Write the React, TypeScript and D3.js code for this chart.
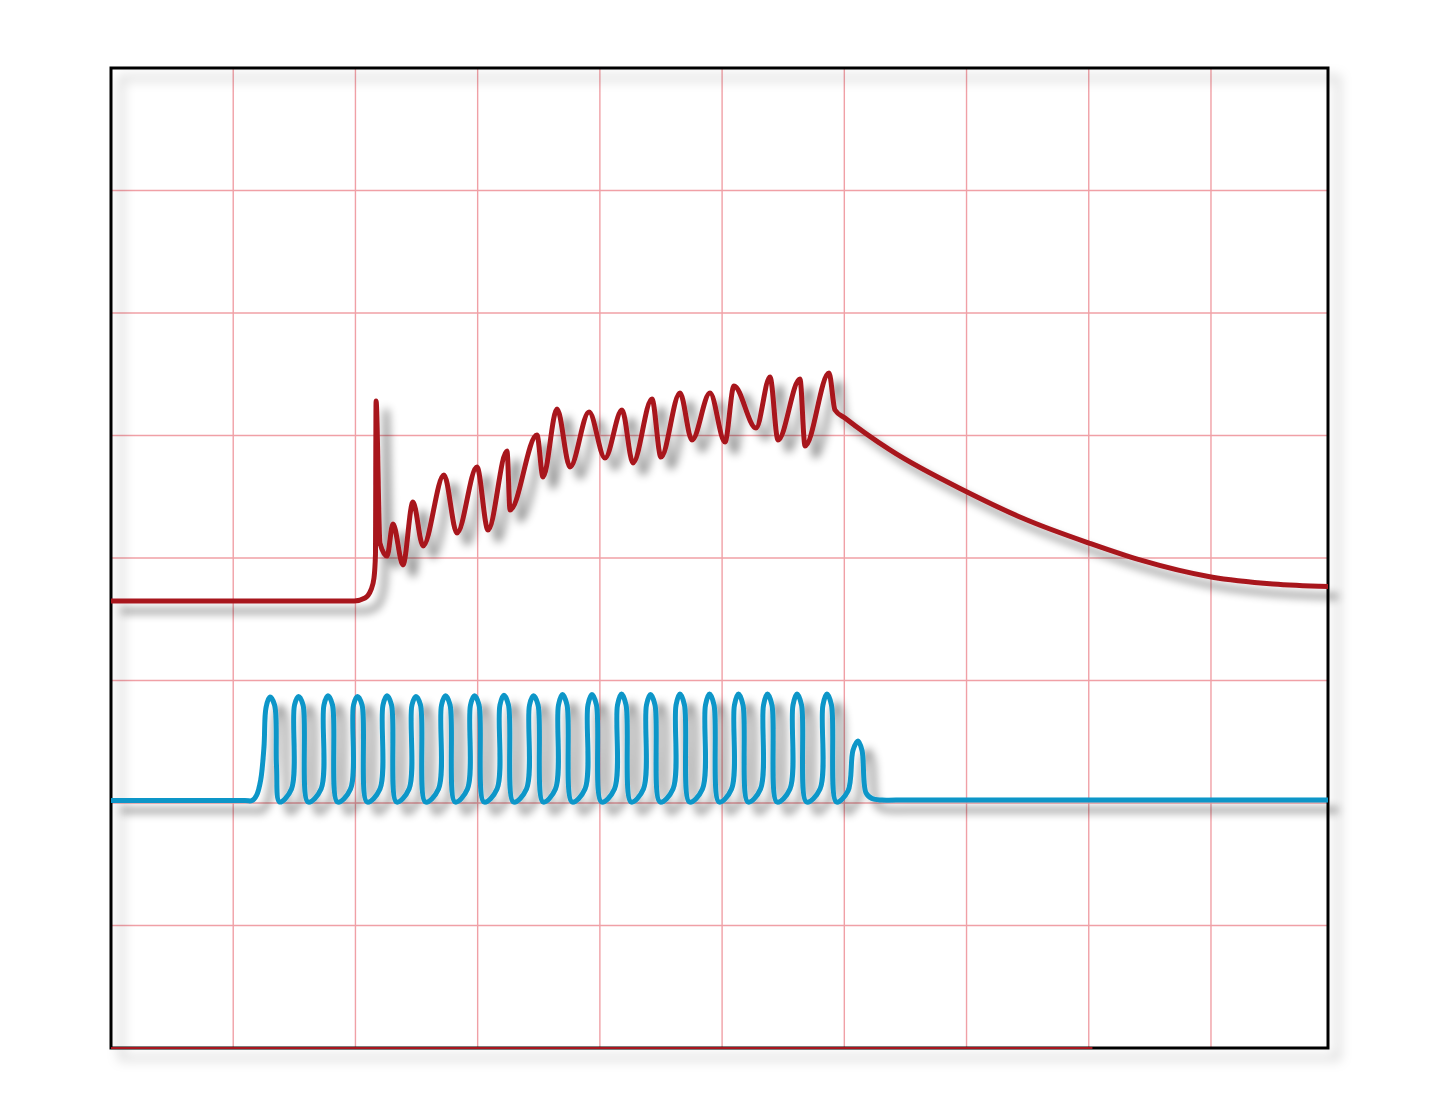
import React, { useEffect, useRef } from "react";
import * as d3 from "d3";

// scope screen: 10 x 8 divisions
const WIDTH = 1440;
const HEIGHT = 1113;
const DIV_X = 10;
const DIV_Y = 8;

const verticalDivs = [1, 2, 3, 4, 5, 6, 7, 8, 9];
const horizontalDivs = [1, 2, 3, 4, 5, 6, 7];

// channel 1 (red), [time, level div]; time 0..10 spans the screen
const redTrace: [number, number][] = [
  [0, 3.65], [2.0, 3.65], [2.087, 3.673], [2.136, 3.739], [2.161, 3.837],
  [2.173, 4.024], [2.178, 5.282], [2.21, 4.122], [2.268, 4.016], [2.317, 4.278],
  [2.399, 3.943], [2.481, 4.457], [2.564, 4.098], [2.736, 4.678], [2.843, 4.204],
  [3.007, 4.743], [3.098, 4.229], [3.254, 4.873], [3.279, 4.392], [3.5, 5.004],
  [3.55, 4.661], [3.665, 5.216], [3.772, 4.743], [3.928, 5.192], [4.059, 4.816],
  [4.199, 5.208], [4.289, 4.776], [4.445, 5.298], [4.519, 4.824], [4.675, 5.347],
  [4.774, 4.963], [4.922, 5.347], [5.045, 4.947], [5.119, 5.404], [5.3, 5.061],
  [5.415, 5.478], [5.481, 4.963], [5.661, 5.461], [5.703, 4.914], [5.9, 5.51],
  [5.949, 5.208], [6.031, 5.143], [6.401, 4.882], [7.034, 4.539], [7.527, 4.31],
  [8.036, 4.122], [8.455, 3.984], [9.039, 3.845], [9.548, 3.788], [10, 3.767],
];

// channel 2 (blue), one row per pulse: foot, rise, peak, fall, trough
const blueTrace: [number, number][] = [
  [0, 2.02], [1.1, 2.02], [1.159, 2.02], [1.197, 2.065], [1.23, 2.188], [1.257, 2.457], [1.274, 2.78],
  [1.306, 2.865], [1.344, 2.8], [1.36, 2.3], [1.385, 2.008],
  [1.483, 2.114], [1.508, 2.8], [1.541, 2.87], [1.578, 2.8], [1.619, 2.008],
  [1.726, 2.114], [1.75, 2.8], [1.783, 2.875], [1.82, 2.8], [1.861, 2.008],
  [1.968, 2.114], [1.993, 2.8], [2.025, 2.87], [2.063, 2.8], [2.104, 2.008],
  [2.21, 2.114], [2.235, 2.8], [2.268, 2.875], [2.305, 2.8], [2.346, 2.008],
  [2.449, 2.114], [2.473, 2.8], [2.506, 2.87], [2.543, 2.8], [2.584, 2.008],
  [2.691, 2.114], [2.716, 2.8], [2.749, 2.875], [2.786, 2.8], [2.827, 2.008],
  [2.929, 2.114], [2.954, 2.8], [2.987, 2.875], [3.024, 2.8], [3.065, 2.008],
  [3.172, 2.114], [3.196, 2.8], [3.229, 2.88], [3.266, 2.8], [3.307, 2.008],
  [3.414, 2.114], [3.439, 2.8], [3.472, 2.875], [3.509, 2.8], [3.55, 2.008],
  [3.652, 2.114], [3.677, 2.8], [3.71, 2.885], [3.747, 2.8], [3.788, 2.008],
  [3.895, 2.114], [3.919, 2.8], [3.952, 2.885], [3.989, 2.8], [4.03, 2.008],
  [4.137, 2.114], [4.162, 2.8], [4.195, 2.89], [4.232, 2.8], [4.273, 2.008],
  [4.375, 2.114], [4.4, 2.8], [4.433, 2.885], [4.47, 2.8], [4.511, 2.008],
  [4.618, 2.114], [4.643, 2.8], [4.675, 2.89], [4.712, 2.8], [4.753, 2.008],
  [4.86, 2.114], [4.885, 2.8], [4.918, 2.89], [4.955, 2.8], [4.996, 2.008],
  [5.099, 2.114], [5.123, 2.8], [5.156, 2.89], [5.193, 2.8], [5.234, 2.008],
  [5.337, 2.114], [5.362, 2.8], [5.394, 2.89], [5.431, 2.8], [5.472, 2.008],
  [5.579, 2.114], [5.604, 2.8], [5.637, 2.89], [5.674, 2.8], [5.715, 2.008],
  [5.826, 2.114], [5.85, 2.8], [5.883, 2.89], [5.92, 2.8], [5.961, 2.008],
  [6.056, 2.098], [6.097, 2.43], [6.138, 2.506], [6.171, 2.43], [6.204, 2.082],
  [6.253, 2.036], [6.335, 2.024], [6.45, 2.024], [10, 2.024],
];

// red marker line drawn along the bottom edge (graticule divisions)
const bottomMarker: [number, number][] = [[0, 0], [8.03, 0]];

const App = () => {
  const ref = useRef<SVGSVGElement>(null);

  useEffect(() => {
    if (!ref.current) return;
    const svg = d3.select(ref.current);
    svg.selectAll("*").remove();

    // traces span the frame; graticule pitch is slightly wider than frame/10
    const x = d3.scaleLinear().domain([0, DIV_X]).range([111, 1328]);
    const gx = d3.scaleLinear().domain([0, DIV_X]).range([111, 1333.2]);
    const y = d3.scaleLinear().domain([0, DIV_Y]).range([1048, 68]);

    const defs = svg.append("defs");
    const shadow = (id: string, blur: number, op: number) =>
      defs
        .append("filter")
        .attr("id", id)
        .attr("x", "-10%")
        .attr("y", "-10%")
        .attr("width", "130%")
        .attr("height", "130%")
        .append("feDropShadow")
        .attr("dx", 10)
        .attr("dy", 10)
        .attr("stdDeviation", blur)
        .attr("flood-color", "#000")
        .attr("flood-opacity", op);
    shadow("traceShadow", 4, 0.45);
    shadow("frameShadow", 6, 0.28);

    // grid
    const grid = svg.append("g").attr("stroke", "#f0a0a6").attr("stroke-width", 1.4);
    grid
      .selectAll("line.v")
      .data(verticalDivs)
      .join("line")
      .attr("class", "v")
      .attr("x1", (d) => gx(d))
      .attr("x2", (d) => gx(d))
      .attr("y1", y(0))
      .attr("y2", y(DIV_Y));
    grid
      .selectAll("line.h")
      .data(horizontalDivs)
      .join("line")
      .attr("class", "h")
      .attr("y1", (d) => y(d))
      .attr("y2", (d) => y(d))
      .attr("x1", x(0))
      .attr("x2", x(DIV_X));

    // frame
    svg
      .append("rect")
      .attr("x", x(0))
      .attr("y", y(DIV_Y))
      .attr("width", x(DIV_X) - x(0))
      .attr("height", y(0) - y(DIV_Y))
      .attr("fill", "none")
      .attr("stroke", "#000")
      .attr("stroke-width", 3)
      .attr("filter", "url(#frameShadow)");

    const line = d3
      .line<[number, number]>()
      .x((d) => x(d[0]))
      .y((d) => y(d[1]));

    svg
      .append("path")
      .datum(redTrace)
      .attr("d", line.curve(d3.curveMonotoneX))
      .attr("fill", "none")
      .attr("stroke", "#a8161f")
      .attr("stroke-width", 5)
      .attr("stroke-linejoin", "round")
      .attr("filter", "url(#traceShadow)");

    svg
      .append("path")
      .datum(blueTrace)
      .attr("d", line.curve(d3.curveCatmullRom.alpha(0.5)))
      .attr("fill", "none")
      .attr("stroke", "#0b96c8")
      .attr("stroke-width", 5)
      .attr("stroke-linejoin", "round")
      .attr("filter", "url(#traceShadow)");

    svg
      .append("path")
      .datum(bottomMarker)
      .attr("d", d3.line<[number, number]>().x((d) => gx(d[0])).y((d) => y(d[1])))
      .attr("stroke", "#e01e28")
      .attr("stroke-width", 1.5);
  }, []);

  return (
    <div style={{ position: "absolute", left: 0, top: 0 }}>
      <svg ref={ref} width={WIDTH} height={HEIGHT} style={{ display: "block", background: "#fff" }} />
    </div>
  );
};

export default App;
